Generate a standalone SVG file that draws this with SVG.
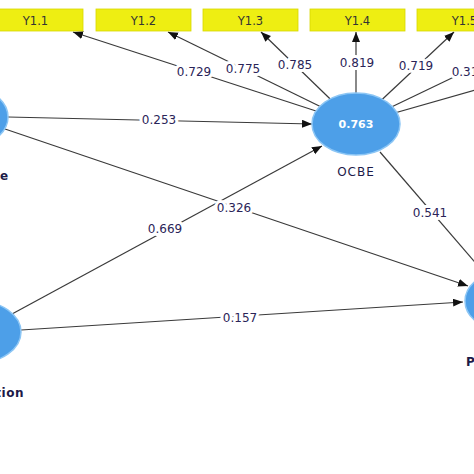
<svg xmlns="http://www.w3.org/2000/svg" width="474" height="474" viewBox="0 0 474 474">
<style>
  .bg{fill:#ffffff}
  .ind rect{fill:#eeee12;stroke:#d8d800;stroke-width:0.8}
  .ind text{font-family:"DejaVu Sans",Verdana,sans-serif;font-size:11.5px;fill:#333333;text-anchor:middle}
  .lv ellipse{fill:#4d9fe8;stroke:#8cc6f5;stroke-width:1.5}
  .val{font-family:"DejaVu Sans",Verdana,sans-serif;font-size:11px;font-weight:bold;fill:#ffffff;text-anchor:middle}
  .name{font-family:"DejaVu Sans",Verdana,sans-serif;font-size:12px;fill:#1c1a48;letter-spacing:1px}
  .bold{font-weight:bold;letter-spacing:0.5px}
  .edge line{stroke:#3a3a3a;stroke-width:1.2;fill:none}
  .arr{marker-end:url(#ah)}
  .lbl{font-family:"DejaVu Sans",Verdana,sans-serif;font-size:12px;fill:#2a2458;text-anchor:middle;stroke:#ffffff;stroke-width:6px;stroke-linejoin:round;paint-order:stroke}
</style>
<defs>
  <marker id="ah" markerUnits="userSpaceOnUse" markerWidth="11" markerHeight="9" refX="10" refY="4" orient="auto">
    <path d="M0,0 L10,4 L0,8 Z" fill="#111111"/>
  </marker>
</defs>
<rect class="bg" x="0" y="0" width="474" height="474"/>

<g id="connectors" class="edge">
  <line class="arr" x1="356" y1="124" x2="73" y2="32"/>
  <line class="arr" x1="356" y1="124" x2="168" y2="32"/>
  <line class="arr" x1="356" y1="124" x2="261" y2="32"/>
  <line class="arr" x1="356" y1="124" x2="356" y2="32"/>
  <line class="arr" x1="356" y1="124" x2="454" y2="32"/>
  <line class="arr" x1="356" y1="124" x2="548" y2="32"/>
  <line class="arr" x1="356" y1="124" x2="678" y2="32"/>
  <line class="arr" x1="8" y1="117" x2="312" y2="124"/>
  <line class="arr" x1="5" y1="129" x2="468" y2="286"/>
  <line class="arr" x1="12" y1="314" x2="322" y2="146"/>
  <line class="arr" x1="21" y1="330" x2="463" y2="302"/>
  <line class="arr" x1="380" y1="152" x2="486" y2="275"/>
  <text class="lbl" x="194" y="76">0.729</text>
  <text class="lbl" x="243" y="73">0.775</text>
  <text class="lbl" x="295" y="69">0.785</text>
  <text class="lbl" x="357" y="67">0.819</text>
  <text class="lbl" x="416" y="70">0.719</text>
  <text class="lbl" x="465" y="76">0.31</text>
  <text class="lbl" x="159" y="124">0.253</text>
  <text class="lbl" x="234" y="212">0.326</text>
  <text class="lbl" x="165" y="233">0.669</text>
  <text class="lbl" x="240" y="322">0.157</text>
  <text class="lbl" x="430" y="217">0.541</text>
</g>

<g id="Y1.1" class="ind"><rect x="-12" y="9" width="95" height="22"/><text x="35.5" y="24.5">Y1.1</text></g>
<g id="Y1.2" class="ind"><rect x="96" y="9" width="95" height="22"/><text x="143.5" y="24.5">Y1.2</text></g>
<g id="Y1.3" class="ind"><rect x="203" y="9" width="95" height="22"/><text x="250.5" y="24.5">Y1.3</text></g>
<g id="Y1.4" class="ind"><rect x="310" y="9" width="95" height="22"/><text x="357.5" y="24.5">Y1.4</text></g>
<g id="Y1.5" class="ind"><rect x="417" y="9" width="95" height="22"/><text x="464.5" y="24.5">Y1.5</text></g>

<g id="OCBE" class="lv">
  <ellipse cx="356" cy="124" rx="44" ry="31"/>
  <text class="val" x="356" y="128">0.763</text>
  <text class="name" x="356" y="176" text-anchor="middle">OCBE</text>
</g>
<g id="node-top-left" class="lv">
  <ellipse cx="-36" cy="117" rx="44" ry="31"/>
  <text class="name bold" x="0" y="180">e</text>
</g>
<g id="node-bottom-left" class="lv">
  <ellipse cx="-23" cy="332" rx="44" ry="31"/>
  <text class="name bold" x="24" y="397" text-anchor="end">ction</text>
</g>
<g id="node-right" class="lv">
  <ellipse cx="509" cy="301" rx="44" ry="31"/>
  <text class="name bold" x="466" y="366">P</text>
</g>
</svg>
